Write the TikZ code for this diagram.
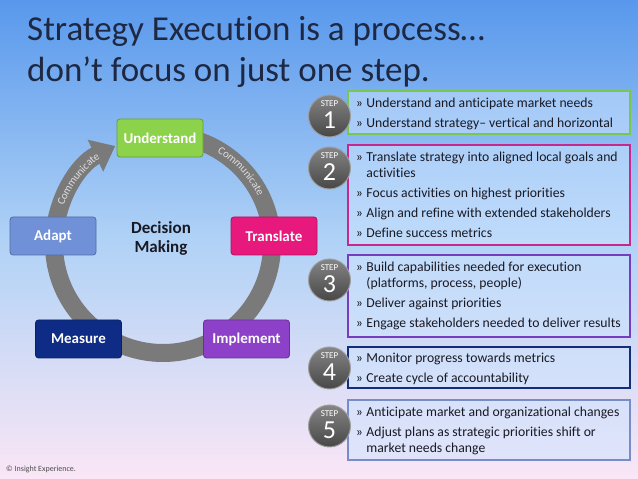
\documentclass[tikz,border=0pt]{standalone}
\usepackage{fontspec}
\setmainfont{Carlito}[Ligatures={TeX,NoCommon}]
\usepackage{tikz}
\usetikzlibrary{arrows.meta,shapes,decorations.text}
\definecolor{bgtop}{RGB}{88,152,236}
\definecolor{bgmid}{RGB}{176,210,246}
\definecolor{bgbot}{RGB}{250,230,246}
\definecolor{titleink}{RGB}{30,40,66}
\definecolor{ink}{RGB}{25,25,35}
\definecolor{ringgray}{RGB}{122,122,122}
\definecolor{commgray}{RGB}{222,222,222}
\definecolor{undgreen}{RGB}{140,210,74}
\definecolor{trapink}{RGB}{232,25,125}
\definecolor{imppurple}{RGB}{140,65,200}
\definecolor{meanavy}{RGB}{14,44,133}
\definecolor{adablue}{RGB}{112,144,216}
\definecolor{edgegreen}{RGB}{120,200,80}
\definecolor{edgepink}{RGB}{200,40,140}
\definecolor{edgepurple}{RGB}{120,60,190}
\definecolor{edgenavy}{RGB}{20,45,120}
\definecolor{edgeblue}{RGB}{120,140,200}
\definecolor{boxfill}{RGB}{205,228,255}
\newcommand{\itemmark}{\makebox[10.5pt][l]{»}}
\newcommand{\itemcont}{\hspace*{10.5pt}}
\newcommand{\steplist}[1]{\begin{tabular}[t]{@{}l@{}}#1\end{tabular}}

\begin{document}
\begin{tikzpicture}[x=1pt, y=1pt]
	\tikzstyle{every node} = [inner sep=0pt]
	\tikzstyle{ring}     = [line width=18pt, draw=ringgray]
	\tikzstyle{tag}      = [rectangle, rounded corners=3pt, minimum width=86pt, minimum height=38pt, line width=0.8pt, text=white, font=\fontsize{15}{15}\selectfont\bfseries]
	\tikzstyle{stepbox}  = [rectangle, minimum width=282pt, line width=2.5pt, fill=boxfill, fill opacity=0.5]
	\tikzstyle{stepdot}  = [circle, minimum size=42pt, top color=black!48, bottom color=black!72, draw=black!38, line width=1pt]
	\tikzstyle{steptag}  = [text=white, font=\fontsize{9}{9}\selectfont]
	\tikzstyle{stepnum}  = [text=white, font=\fontsize{26}{26}\selectfont]
	\tikzstyle{items}    = [anchor=base west, text=ink, font=\fontsize{13.7}{16}\selectfont]
	\tikzstyle{title}    = [anchor=base west, text=titleink, font=\fontsize{35}{35}\selectfont]
	% background
	\shade[top color=bgtop, bottom color=bgbot, middle color=bgmid] (0,0) rectangle (638,479);
	\useasboundingbox (0,0) rectangle (638,479);
	\node[title] (head1) at (27,438) {Strategy Execution is a process…};
	\node[title] (head2) at (27,397) {don’t focus on just one step.};
	% the cycle
	\coordinate (hub) at (163,235);
	\draw[ring] ([shift={(100:109)}]hub) arc[start angle=100, end angle=-180, radius=109];
	\draw[ring, -{Triangle[width=34pt,length=22pt]}] ([shift={(182:109)}]hub) arc[start angle=182, end angle=116, radius=109];
	\path[decorate, decoration={text along path, text align=center, raise=-2.5pt, text color=commgray,
		text={|\fontsize{11}{11}\selectfont|Communicate}}]
		([shift={(170:109)}]hub) arc[start angle=170, end angle=115, radius=109];
	\path[decorate, decoration={text along path, text align=center, raise=-2.5pt, text color=commgray,
		text={|\fontsize{11}{11}\selectfont|Communicate}}]
		([shift={(70:109)}]hub) arc[start angle=70, end angle=16, radius=109];
	\node[tag, fill=undgreen, draw=undgreen!75!black]    (und) at (160,341)   {Understand};
	\node[tag, fill=trapink, draw=trapink!75!black]      (tra) at (274,243)   {Translate};
	\node[tag, fill=imppurple, draw=imppurple!75!black]  (imp) at (246.5,140) {Implement};
	\node[tag, fill=meanavy, draw=meanavy!75!black]      (mea) at (78.5,140)  {Measure};
	\node[tag, fill=adablue, draw=adablue!75!black]      (ada) at (53,243)    {Adapt};
	\node[align=center, text=ink, font=\fontsize{17}{19}\selectfont\bfseries] (dm) at (161,241) {Decision\\Making};
	% steps
	\node[stepbox, draw=edgegreen, minimum height=43pt]  (b1) at (489,366.5) {};
	\node[stepbox, draw=edgepink, minimum height=100pt]  (b2) at (489,284)   {};
	\node[stepbox, draw=edgepurple, minimum height=82pt] (b3) at (489,183)   {};
	\node[stepbox, draw=edgenavy, minimum height=41pt]   (b4) at (489,111.5) {};
	\node[stepbox, draw=edgeblue, minimum height=60pt]   (b5) at (489,49)    {};
	\node[stepdot] (s1) at (329.5,363) {};
	\node[stepdot] (s2) at (329.5,311) {};
	\node[stepdot] (s3) at (329.5,199) {};
	\node[stepdot] (s4) at (329.5,111) {};
	\node[stepdot] (s5) at (329.5,53)  {};
	\node[steptag] (s1t) at ([yshift=12pt]s1) {STEP};
	\node[steptag] (s2t) at ([yshift=12pt]s2) {STEP};
	\node[steptag] (s3t) at ([yshift=12pt]s3) {STEP};
	\node[steptag] (s4t) at ([yshift=12pt]s4) {STEP};
	\node[steptag] (s5t) at ([yshift=12pt]s5) {STEP};
	\node[stepnum] (s1n) at ([yshift=-4pt]s1) {1};
	\node[stepnum] (s2n) at ([yshift=-4pt]s2) {2};
	\node[stepnum] (s3n) at ([yshift=-4pt]s3) {3};
	\node[stepnum] (s4n) at ([yshift=-4pt]s4) {4};
	\node[stepnum] (s5n) at ([yshift=-4pt]s5) {5};
	\node[items] (t1) at ([xshift=9pt, yshift=-18pt]b1.north west) {\steplist{%
		\itemmark Understand and anticipate market needs\\[4pt]
		\itemmark Understand strategy– vertical and horizontal}};
	\node[items] (t2) at ([xshift=9pt, yshift=-18pt]b2.north west) {\steplist{%
		\itemmark Translate strategy into aligned local goals and\\
		\itemcont activities\\[4pt]
		\itemmark Focus activities on highest priorities\\[4pt]
		\itemmark Align and refine with extended stakeholders\\[4pt]
		\itemmark Define success metrics}};
	\node[items] (t3) at ([xshift=9pt, yshift=-18pt]b3.north west) {\steplist{%
		\itemmark Build capabilities needed for execution\\
		\itemcont (platforms, process, people)\\[4pt]
		\itemmark Deliver against priorities\\[4pt]
		\itemmark Engage stakeholders needed to deliver results}};
	\node[items] (t4) at ([xshift=9pt, yshift=-17pt]b4.north west) {\steplist{%
		\itemmark Monitor progress towards metrics\\[4pt]
		\itemmark Create cycle of accountability}};
	\node[items] (t5) at ([xshift=9pt, yshift=-18pt]b5.north west) {\steplist{%
		\itemmark Anticipate market and organizational changes\\[4pt]
		\itemmark Adjust plans as strategic priorities shift or\\
		\itemcont market needs change}};
	\node[anchor=base west, text=black!70, font=\fontsize{8}{8}\selectfont] (copy) at (6,7) {© Insight Experience.};
\end{tikzpicture}
\end{document}
